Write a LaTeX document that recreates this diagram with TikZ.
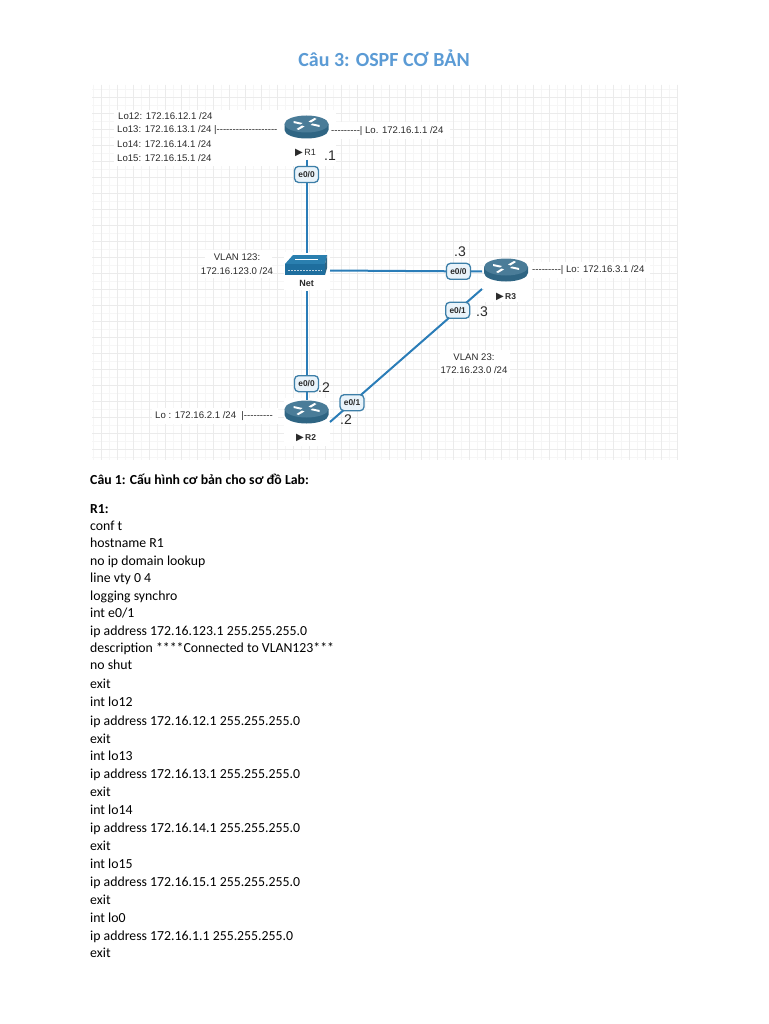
\documentclass[tikz,border=0pt]{standalone}
\usepackage{fontspec}
\setmainfont{Carlito}
\newfontfamily\labfont{Liberation Sans}
\newfontfamily\symfont{DejaVu Sans}
\definecolor{titleblue}{HTML}{5B9BD5}
\definecolor{linkblue}{HTML}{2B7DB8}
\definecolor{routertop}{HTML}{4A7C98}
\definecolor{routerside}{HTML}{2F6583}
\definecolor{switchfront}{HTML}{1E6E9E}
\definecolor{switchtop}{HTML}{2A7FAF}
\definecolor{portfill}{HTML}{E9F3FA}
\definecolor{portedge}{HTML}{3D7FA8}
\definecolor{gridminor}{HTML}{F6F6F6}
\definecolor{gridmajor}{HTML}{EBEBEB}
\definecolor{labtext}{HTML}{2A2A2A}
\tikzset{
  codeline/.style={anchor=base west,inner sep=0pt,font=\fontsize{13.8}{16}\selectfont,text=black},
  lab/.style={inner sep=0pt,font=\labfont\fontsize{9.6}{12}\selectfont,text=labtext},
  addr/.style={inner sep=0pt,font=\labfont\fontsize{14}{16}\selectfont,text=labtext},
  port/.style={draw=portedge,line width=1.3pt,fill=portfill,rounded corners=4pt,minimum width=24pt,minimum height=16pt,inner sep=0pt,font=\labfont\bfseries\fontsize{8.4}{10}\selectfont,text=labtext},
  link/.style={draw=linkblue,line width=2pt},
  device/.style={inner sep=0pt,outer sep=0pt}
}
\newcommand{\routericon}[1]{%
  \begin{scope}[shift={(#1)}]
    \fill[routerside] (-22,-6) -- (-22,0) arc[start angle=180,end angle=0,x radius=22,y radius=8.5] -- (22,-6) -- cycle;
    \fill[routertop] (0,-6) ellipse[x radius=22,y radius=8.5];
    \fill[white] (-13,-9) -- (-4,-7) -- (-6,-5.5) -- (-13,-7) -- cycle;
    \fill[white] (13,-3) -- (4,-5) -- (6,-6.5) -- (13,-5) -- cycle;
    \fill[white] (8,-12) -- (2,-8.5) -- (4.5,-7.5) -- (10,-11) -- cycle;
    \fill[white] (-8,0) -- (-2,-3.5) -- (-4.5,-4.5) -- (-10,-1) -- cycle;
  \end{scope}}
\newcommand{\codeline}[2]{\node[codeline] (c#1) at (90,#1) {#2};}
\newcommand{\playname}[1]{{\symfont\fontsize{10}{10}\selectfont ▶}\,#1}
\begin{document}
\begin{tikzpicture}[x=1pt,y=-1pt]
\useasboundingbox (0,0) rectangle (768,1024);
\fill[white] (0,0) rectangle (768,1024);

% grid
\foreach \gx in {93,101,...,677} {\draw[gridminor,line width=0.8pt] (\gx,85) -- (\gx,460);}
\foreach \gy in {89,97,...,457} {\draw[gridminor,line width=0.8pt] (92,\gy) -- (678,\gy);}
\foreach \gx in {101,117,...,677} {\draw[gridmajor,line width=0.8pt] (\gx,85) -- (\gx,460);}
\foreach \gy in {97,113,...,457} {\draw[gridmajor,line width=0.8pt] (92,\gy) -- (678,\gy);}

% white backgrounds of the labels
\fill[white] (114,110) rectangle (336,166);
\fill[white] (336,122) rectangle (450,139);
\fill[white] (205,250) rectangle (272,278);
\fill[white] (284,252) rectangle (330,290);
\fill[white] (440,350) rectangle (510,378);
\fill[white] (152,408) rectangle (278,424);
\fill[white] (284,398) rectangle (330,446);
\fill[white] (484,258) rectangle (532,302);
\fill[white] (532,262) rectangle (650,278);

% devices
\node[device,minimum width=45pt,minimum height=44pt] (r1) at (306.5,138) {};
\node[device,minimum width=45pt,minimum height=45pt] (r2) at (306.5,422.5) {};
\node[device,minimum width=46pt,minimum height=43pt] (r3) at (506,280.5) {};
\node[device,minimum width=44pt,minimum height=38pt] (net) at (306.5,272) {};
\coordinate (r3a) at (482,271.5);
\coordinate (r3b) at (482,289);
\coordinate (r2b) at (330,422);
\coordinate (neta) at (330,270.5);

\routericon{306.5,130}
\routericon{306.5,415}
\routericon{506,273}

% switch
\fill[switchtop] (285,264) -- (293,255) -- (327,255) -- (325,264) -- cycle;
\fill[switchfront] (285,264) rectangle (325,275);
\fill[routerside] (325,264) -- (327,255) -- (327,268) -- (325,275) -- cycle;
\draw[white,line width=0.4pt] (295,259.5) -- (318,259.5);
\draw[white!70!switchfront,line width=1pt,dash pattern=on 1.5pt off 1.5pt] (288,270) -- (322,270);

% links
\path[link] (r1.south) -- (net.north) node[port,pos=0.155] (p1) {e0/0};
\path[link] (net.south) -- (r2.north) node[port,pos=0.85] (p2) {e0/0};
\path[link] (neta) -- (r3a) node[port,pos=0.845] (p3) {e0/0};
\path[link] (r2b) -- (r3b) node[port,pos=0.145] (p4) {e0/1} node[port,pos=0.84] (p5) {e0/1};

% device names
\node[lab,font=\labfont\fontsize{9}{11}\selectfont] (n1) at (305.5,153) {\playname{R1}};
\node[lab,font=\labfont\bfseries\fontsize{8.5}{11}\selectfont] (n2) at (306,437.5) {\playname{R2}};
\node[lab,font=\labfont\bfseries\fontsize{8.5}{11}\selectfont] (n3) at (506,296.5) {\playname{R3}};
\node[lab,font=\labfont\bfseries\fontsize{9}{11}\selectfont] (n4) at (306.5,283) {Net};

% loopback and VLAN labels
\node[lab,anchor=west] (t1) at (118,116) {Lo12: 172.16.12.1 /24};
\node[lab,anchor=west] (t2) at (117,130) {Lo13: 172.16.13.1 /24 |-------------------};
\node[lab,anchor=west] (t3) at (117,144) {Lo14: 172.16.14.1 /24};
\node[lab,anchor=west] (t4) at (117,158) {Lo15: 172.16.15.1 /24};
\node[lab,anchor=west] (t5) at (331,131) {---------| Lo. 172.16.1.1 /24};
\node[lab,anchor=west] (t6) at (532,270) {---------| Lo: 172.16.3.1 /24};
\node[lab,anchor=west] (t7) at (155,416) {Lo : 172.16.2.1 /24 \ |---------};
\node[lab] (t8) at (237,257) {VLAN 123:};
\node[lab] (t9) at (237,271) {172.16.123.0 /24};
\node[lab] (t10) at (474,357) {VLAN 23:};
\node[lab] (t11) at (474,370) {172.16.23.0 /24};

% addresses
\node[addr] (a1) at (330,156) {.1};
\node[addr] (a2) at (460,252) {.3};
\node[addr] (a3) at (482,312) {.3};
\node[addr] (a4) at (324,388) {.2};
\node[addr] (a5) at (346,420) {.2};

% title
\node[inner sep=0pt,text=titleblue,font=\bfseries\fontsize{20}{24}\selectfont] (title) at (384,58.5) {Câu 3: OSPF CƠ BẢN};

% text
\node[codeline,font=\bfseries\fontsize{13.8}{16}\selectfont] (h1) at (90,484) {Câu 1: Cấu hình cơ bản cho sơ đồ Lab:};
\node[codeline,font=\bfseries\fontsize{13.8}{16}\selectfont] (h2) at (90,513) {R1:};
\codeline{530}{conf t}
\codeline{547}{hostname R1}
\codeline{565}{no ip domain lookup}
\codeline{582}{line vty 0 4}
\codeline{600}{logging synchro}
\codeline{617}{int e0/1}
\codeline{635}{ip address 172.16.123.1 255.255.255.0}
\codeline{652}{description ****Connected to VLAN123***}
\codeline{669}{no shut}
\codeline{688}{exit}
\codeline{706}{int lo12}
\codeline{725}{ip address 172.16.12.1 255.255.255.0}
\codeline{743}{exit}
\codeline{760}{int lo13}
\codeline{778}{ip address 172.16.13.1 255.255.255.0}
\codeline{796}{exit}
\codeline{814}{int lo14}
\codeline{832}{ip address 172.16.14.1 255.255.255.0}
\codeline{850}{exit}
\codeline{868}{int lo15}
\codeline{886}{ip address 172.16.15.1 255.255.255.0}
\codeline{904}{exit}
\codeline{922}{int lo0}
\codeline{940}{ip address 172.16.1.1 255.255.255.0}
\codeline{957}{exit}
\end{tikzpicture}
\end{document}
